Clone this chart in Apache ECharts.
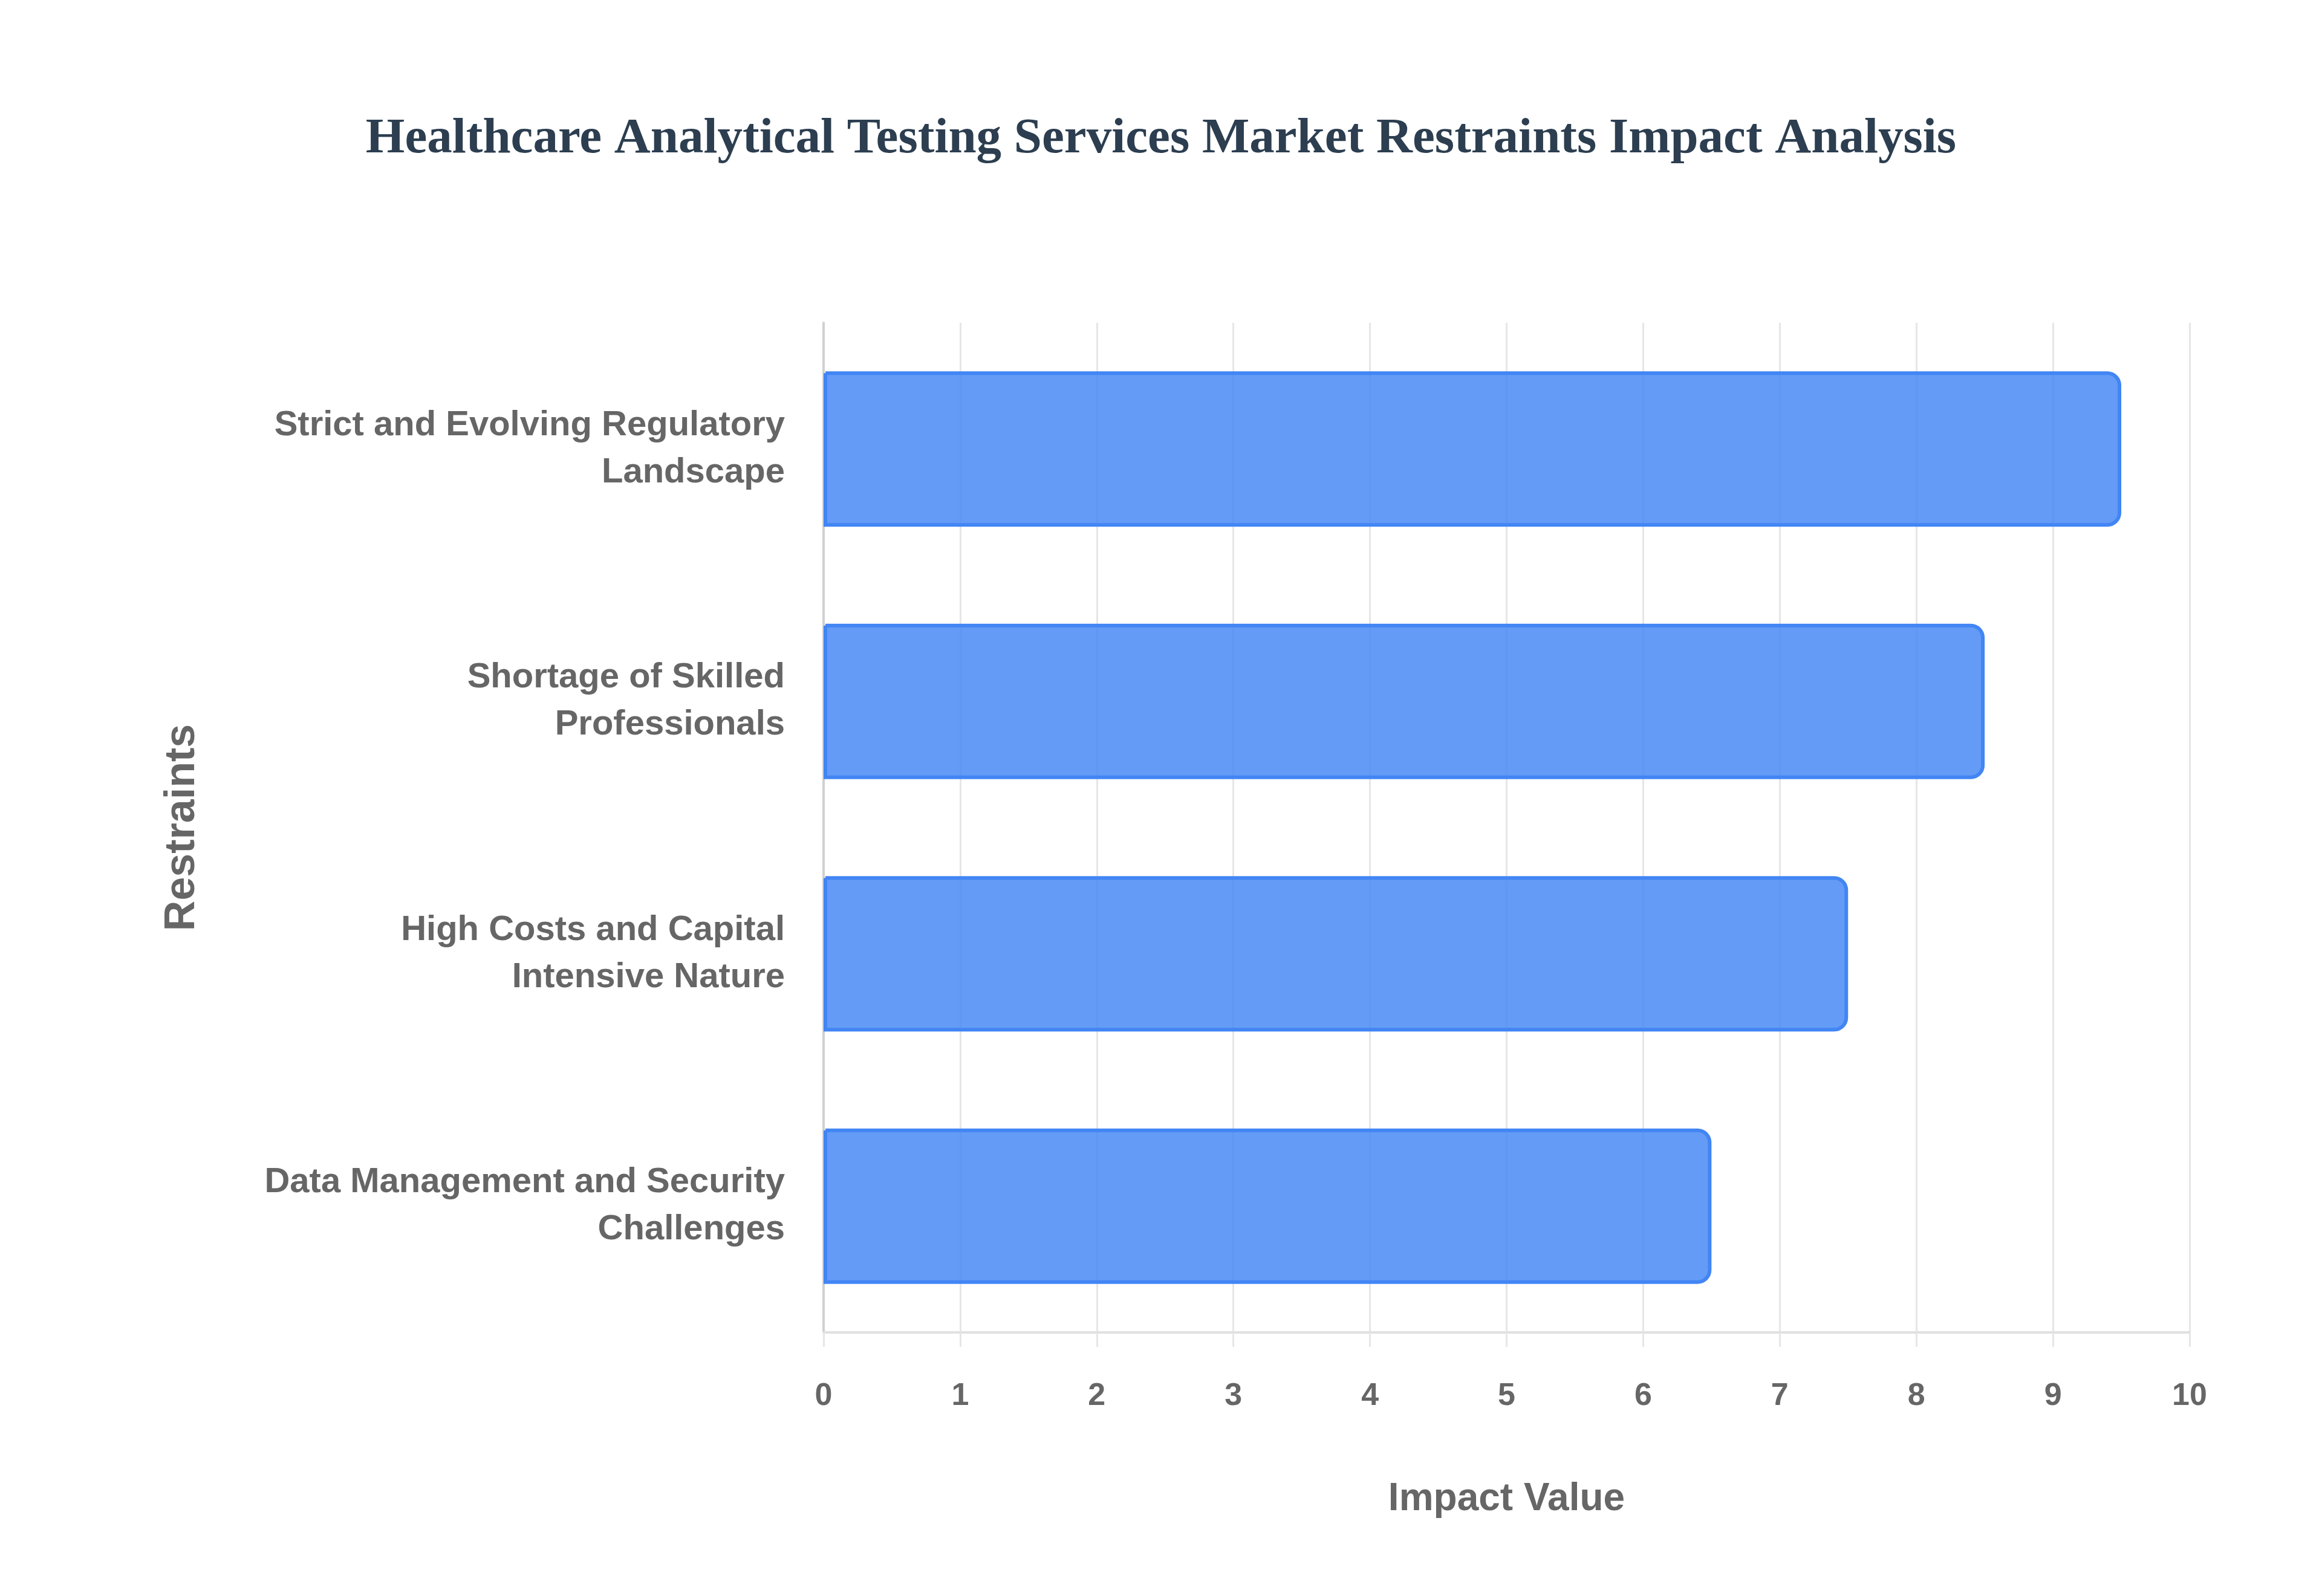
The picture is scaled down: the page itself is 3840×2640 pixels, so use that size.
<!DOCTYPE html>
<html lang="en">
<head>
    <meta charset="UTF-8">
    <title>Healthcare Analytical Testing Services Market Restraints Impact Analysis</title>
    <script src="https://cdn.jsdelivr.net/npm/echarts@6/dist/echarts.min.js"></script>
    <style>
        html, body { margin: 0; padding: 0; background: #fff; }
    </style>
</head>
<body>
    <div id="container" style="width: 3840px; height: 2640px;"></div>
    <script>
        // restraints, top to bottom
        var restraints = [
            'Strict and Evolving Regulatory\nLandscape',
            'Shortage of Skilled\nProfessionals',
            'High Costs and Capital\nIntensive Nature',
            'Data Management and Security\nChallenges'
        ];
        var impactValues = [9.5, 8.5, 7.5, 6.5];
        var xTicks = [0, 1, 2, 3, 4, 5, 6, 7, 8, 9, 10];

        var labelFont = '"Liberation Sans", Arial, sans-serif';
        var myChart = echarts.init(document.querySelector('#container'));

        myChart.setOption({
            backgroundColor: '#ffffff',
            title: {
                text: 'Healthcare Analytical Testing Services Market Restraints Impact Analysis',
                left: 'center',
                top: 184,
                textStyle: {
                    fontFamily: '"Liberation Serif", "Times New Roman", serif',
                    fontWeight: 'bold',
                    fontSize: 83,
                    color: '#2c3e50'
                }
            },
            grid: {
                left: 1362,
                right: 219,
                top: 534,
                bottom: 436,
                containLabel: false
            },
            xAxis: {
                type: 'value',
                min: xTicks[0],
                max: xTicks[xTicks.length - 1],
                interval: 1,
                name: 'Impact Value',
                nameLocation: 'middle',
                nameGap: 244,
                nameTextStyle: {
                    fontFamily: labelFont,
                    fontWeight: 'bold',
                    fontSize: 64,
                    color: '#666666'
                },
                axisLine: { show: true, lineStyle: { color: '#e0e0e0', width: 4 } },
                axisTick: { show: true, length: 24, lineStyle: { color: '#e6e6e6', width: 3 } },
                axisLabel: {
                    margin: 80,
                    fontFamily: labelFont,
                    fontWeight: 'bold',
                    fontSize: 52,
                    color: '#666666'
                },
                splitLine: { show: true, lineStyle: { color: '#e6e6e6', width: 3 } }
            },
            yAxis: {
                type: 'category',
                data: restraints,
                inverse: true,
                name: 'Restraints',
                nameLocation: 'middle',
                nameGap: 1025,
                nameRotate: 90,
                nameTextStyle: {
                    fontFamily: labelFont,
                    fontWeight: 'bold',
                    fontSize: 70,
                    color: '#666666'
                },
                axisLine: { show: true, lineStyle: { color: '#d0d0d0', width: 4 } },
                axisTick: { show: false },
                axisLabel: {
                    margin: 64,
                    align: 'right',
                    fontFamily: labelFont,
                    fontWeight: 'bold',
                    fontSize: 58,
                    lineHeight: 78,
                    color: '#666666'
                },
                splitLine: { show: false }
            },
            series: [{
                type: 'bar',
                data: impactValues,
                barWidth: '61.6%',
                itemStyle: {
                    color: 'rgba(66, 133, 244, 0.82)',
                    borderColor: '#4285f4',
                    borderWidth: 6,
                    borderRadius: [0, 20, 20, 0]
                }
            }]
        });
    </script>
</body>
</html>
